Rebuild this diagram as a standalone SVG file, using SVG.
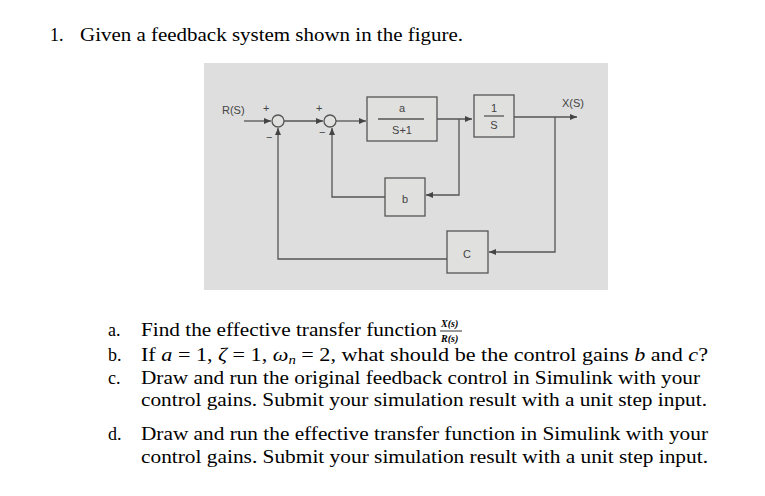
<svg xmlns="http://www.w3.org/2000/svg" width="765" height="496" viewBox="0 0 765 496">
<defs>
<style>
.t{font-family:"Liberation Serif",serif;font-size:18px;fill:#000}
.h{font-family:"Liberation Sans",sans-serif;font-size:11px;fill:#444}
.ln{stroke:#555;stroke-width:1.3;fill:none}
.bx{fill:#e0e0de;stroke:#555;stroke-width:1.3}
</style>
<marker id="ar" markerWidth="8" markerHeight="8" refX="7" refY="3" orient="auto" markerUnits="userSpaceOnUse"><path d="M0,0L7,3L0,6z" fill="#444"/></marker>
</defs>
<rect width="765" height="496" fill="#fff"/>
<g class="t">
<text x="50" y="41">1.</text>
<text x="80" y="41" textLength="383" lengthAdjust="spacingAndGlyphs">Given a feedback system shown in the figure.</text>
</g>
<rect x="204" y="63" width="404" height="227" fill="#dedede"/>
<g id="connectors">
<path class="ln" d="M244,121H271" marker-end="url(#ar)"/>
<path class="ln" d="M284,121H323" marker-end="url(#ar)"/>
<path class="ln" d="M336,121H366" marker-end="url(#ar)"/>
<path class="ln" d="M437,119H472" marker-end="url(#ar)"/>
<path class="ln" d="M514,117H577" marker-end="url(#ar)"/>
<path class="ln" d="M459,119V195H426" marker-end="url(#ar)"/>
<path class="ln" d="M385,197H332V128" marker-end="url(#ar)"/>
<path class="ln" d="M555,117V252H489" marker-end="url(#ar)"/>
<path class="ln" d="M447,259H278V128" marker-end="url(#ar)"/>
</g>
<g id="sum1"><circle class="bx" cx="278" cy="121" r="6"/><text class="h" x="263" y="112">+</text><text class="h" x="266" y="141">−</text></g>
<g id="sum2"><circle class="bx" cx="330" cy="121" r="6"/><text class="h" x="316" y="112">+</text><text class="h" x="319" y="136">−</text></g>
<g id="r"><text class="h" x="222" y="114">R(S)</text></g>
<g id="x"><text class="h" x="562" y="107">X(S)</text></g>
<g id="g1"><rect class="bx" x="367" y="97" width="70" height="44"/><text class="h" x="402" y="112" text-anchor="middle">a</text><path class="ln" d="M378,119H424"/><text class="h" x="402" y="134" text-anchor="middle">S+1</text></g>
<g id="g2"><rect class="bx" x="474" y="95" width="40" height="42"/><text class="h" x="494" y="112" text-anchor="middle">1</text><path class="ln" d="M484,116H504"/><text class="h" x="494" y="129" text-anchor="middle">S</text></g>
<g id="b"><rect class="bx" x="385" y="178" width="40" height="38"/><text class="h" x="405" y="203" text-anchor="middle" font-size="14">b</text></g>
<g id="c"><rect class="bx" x="447" y="231" width="41" height="42"/><text class="h" x="467" y="258" text-anchor="middle" font-size="14">C</text></g>
<g class="t">
<text x="108" y="336">a.</text>
<text x="141" y="336" textLength="296" lengthAdjust="spacingAndGlyphs">Find the effective transfer function</text>
<text x="441" y="327" font-size="10" font-weight="bold" font-style="italic">X(s)</text>
<path d="M440,331H462" stroke="#000" stroke-width="0.8"/>
<text x="441" y="342" font-size="10" font-weight="bold" font-style="italic">R(s)</text>
<text x="108" y="361">b.</text>
<text x="141" y="361" textLength="567" lengthAdjust="spacingAndGlyphs">If <tspan font-style="italic">a</tspan> = 1, <tspan font-style="italic">ζ</tspan> = 1, <tspan font-style="italic">ω<tspan font-size="12" dy="3">n</tspan></tspan><tspan dy="-3"> = 2, what should be the control gains </tspan><tspan font-style="italic">b</tspan> and <tspan font-style="italic">c</tspan>?</text>
<text x="108" y="384">c.</text>
<text x="141" y="384" textLength="559" lengthAdjust="spacingAndGlyphs">Draw and run the original feedback control in Simulink with your</text>
<text x="141" y="406" textLength="566" lengthAdjust="spacingAndGlyphs">control gains. Submit your simulation result with a unit step input.</text>
<text x="108" y="440">d.</text>
<text x="141" y="440" textLength="567" lengthAdjust="spacingAndGlyphs">Draw and run the effective transfer function in Simulink with your</text>
<text x="141" y="463" textLength="567" lengthAdjust="spacingAndGlyphs">control gains. Submit your simulation result with a unit step input.</text>
</g>
</svg>
